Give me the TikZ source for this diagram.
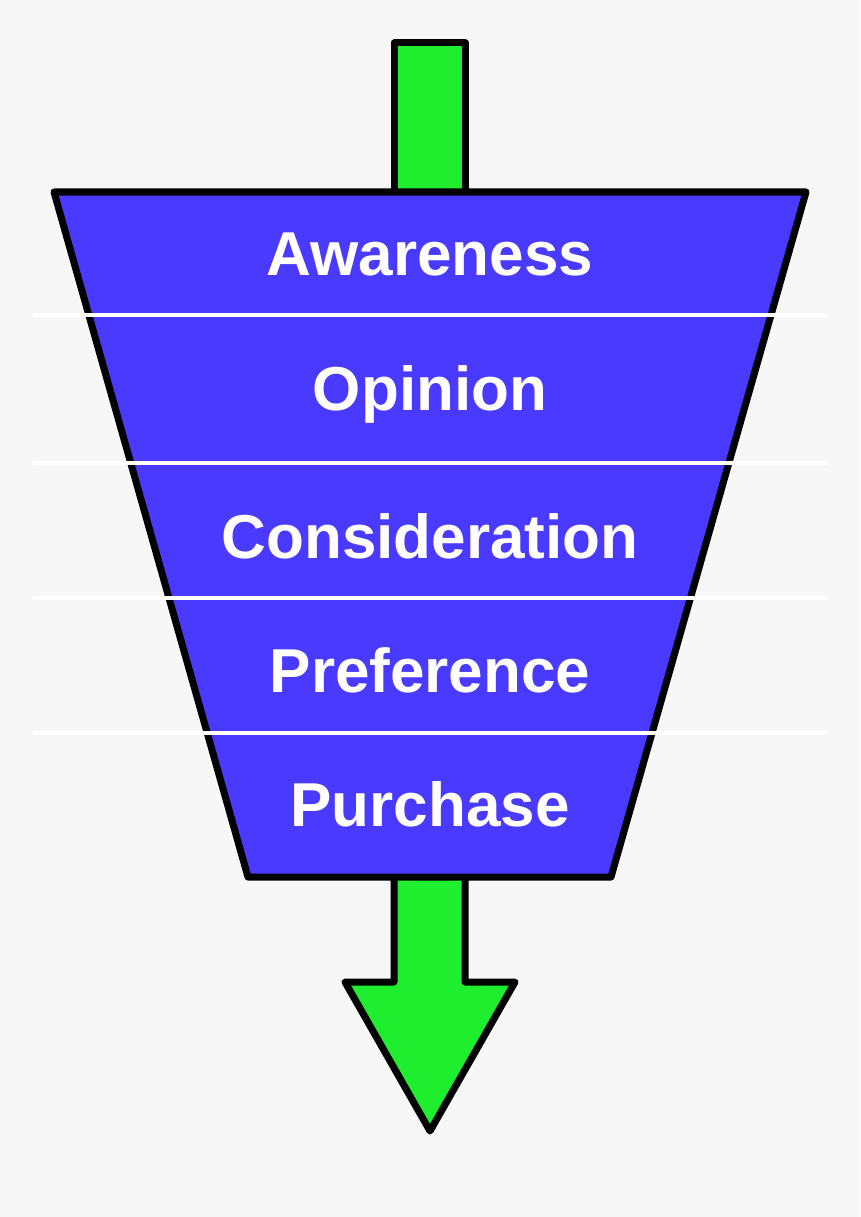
\documentclass[tikz,border=0pt]{standalone}
\usepackage{fontspec}
\setmainfont{Liberation Sans}
\definecolor{bgc}{RGB}{247,247,247}
\definecolor{funnelblue}{RGB}{74,58,255}
\definecolor{arrowgreen}{RGB}{30,238,46}
\tikzset{
  outline/.style={draw=black, line width=7pt, line join=round},
  greenpart/.style={outline, fill=arrowgreen},
  bluepart/.style={outline, fill=funnelblue},
  divider/.style={draw=white, line width=4pt},
  stagelabel/.style={text=white, font=\bfseries\fontsize{62}{62}\selectfont, anchor=base, inner sep=0pt}
}
\begin{document}
\begin{tikzpicture}[x=1pt,y=-1pt]
\fill[bgc] (0,0) rectangle (860,1217);
\useasboundingbox (0,0) rectangle (860,1217);
% top arrow shaft
\path[greenpart] (394,200) -- (394,43) -- (465,43) -- (465,200) -- cycle;
% bottom arrow
\path[greenpart] (394,870) -- (394,982) -- (345,982) -- (430,1131) -- (515,982) -- (465,982) -- (465,870) -- cycle;
% funnel
\path[bluepart] (54,192) -- (806,192) -- (611,877) -- (248,877) -- cycle;
% dividers
\coordinate (d1l) at (33,315); \coordinate (d1r) at (828,315);
\coordinate (d2l) at (33,463); \coordinate (d2r) at (828,463);
\coordinate (d3l) at (33,598); \coordinate (d3r) at (828,598);
\coordinate (d4l) at (33,733); \coordinate (d4r) at (828,733);
\draw[divider] (d1l) -- (d1r);
\draw[divider] (d2l) -- (d2r);
\draw[divider] (d3l) -- (d3r);
\draw[divider] (d4l) -- (d4r);
% labels
\node[stagelabel] (aw) at (430,275) {Awareness};
\node[stagelabel] (op) at (430,410) {Opinion};
\node[stagelabel] (co) at (430,558) {Consideration};
\node[stagelabel] (pr) at (430,692) {Preference};
\node[stagelabel] (pu) at (430,826) {Purchase};
\end{tikzpicture}
\end{document}
